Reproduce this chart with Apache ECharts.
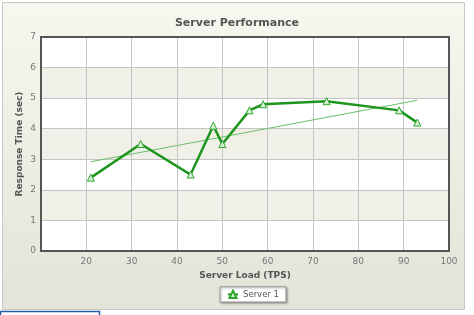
<!DOCTYPE html>
<html><head><meta charset="utf-8">
<script src="https://cdn.jsdelivr.net/npm/echarts@6/dist/echarts.min.js"></script>
<style>html,body{margin:0;padding:0;background:#fff}#c{width:474px;height:315px}</style>
</head><body><div id="c"></div>
<script>
var loadTPS = [21, 32, 43, 48, 50, 56, 59, 73, 89, 93];
var responseSec = [2.4, 3.5, 2.5, 4.1, 3.5, 4.6, 4.8, 4.9, 4.6, 4.2];
var trendX = [21, 93];
var trendY = [2.92, 4.93];
var xTicks = [10, 20, 30, 40, 50, 60, 70, 80, 90, 100];
var yTicks = [0, 1, 2, 3, 4, 5, 6, 7];

var chart = echarts.init(document.getElementById('c'));
var font = 'DejaVu Sans, Verdana, sans-serif';
chart.setOption({
  animation: false,
  backgroundColor: '#fff',
  graphic: [
    {type: 'rect', shape: {x: 2.5, y: 2.5, width: 462, height: 307}, z: -10,
     style: {fill: new echarts.graphic.LinearGradient(0, 0, 0, 1, [{offset: 0, color: '#f7f7ef'}, {offset: 1, color: '#e3e3d9'}]), stroke: '#c8c8c0', lineWidth: 1}},
    {type: 'rect', shape: {x: 0.5, y: 311.5, width: 99, height: 6}, z: -5,
     style: {fill: '#fff', stroke: '#2c5ca8', lineWidth: 1.5}}
  ],
  title: {text: 'Server Performance', left: 'center', top: 13,
    textStyle: {fontFamily: font, fontSize: 11, fontWeight: 'bold', color: '#555'}},
  grid: {left: 41, right: 25, top: 37, bottom: 64, show: true, borderColor: '#555', borderWidth: 2, backgroundColor: 'transparent', z: 3},
  legend: {data: ['Server 1'], bottom: 13, left: 220,
    backgroundColor: '#fff', borderColor: '#999', borderWidth: 1, padding: [3, 7],
    shadowColor: 'rgba(0,0,0,0.35)', shadowBlur: 2, shadowOffsetX: 1, shadowOffsetY: 1,
    itemWidth: 10, itemHeight: 9, itemGap: 5,
    textStyle: {fontFamily: font, fontSize: 8.5, color: '#555'}},
  xAxis: {type: 'value', min: 10, max: 100, interval: 10,
    name: 'Server Load (TPS)', nameLocation: 'middle', nameGap: 20, nameMoveOverlap: false,
    nameTextStyle: {fontFamily: font, fontSize: 9, fontWeight: 'bold', color: '#555'},
    axisLine: {show: false}, axisTick: {show: false},
    axisLabel: {fontFamily: font, fontSize: 9, color: '#777', margin: 6,
      formatter: function (v) { return xTicks.indexOf(v) > 0 ? String(v) : ''; }},
    splitLine: {show: true, showMinLine: false, showMaxLine: false, lineStyle: {color: '#c4c4c4', width: 1}}},
  yAxis: {type: 'value', min: 0, max: 7, interval: 1,
    name: 'Response Time (sec)', nameLocation: 'middle', nameGap: 17, nameMoveOverlap: false,
    nameTextStyle: {fontFamily: font, fontSize: 9, fontWeight: 'bold', color: '#555'},
    axisLine: {show: false}, axisTick: {show: false},
    axisLabel: {fontFamily: font, fontSize: 9, color: '#777', margin: 5,
      formatter: function (v) { return yTicks.indexOf(v) >= 0 ? String(v) : ''; }},
    splitLine: {show: true, showMinLine: false, showMaxLine: false, lineStyle: {color: '#c4c4c4', width: 1}},
    splitArea: {show: true, areaStyle: {color: ['#ffffff', '#f0f0e9']}}},
  series: [
    {name: 'Trend', type: 'line', data: trendX.map(function (x, i) { return [x, trendY[i]]; }),
      symbol: 'none', lineStyle: {color: '#6cc06c', width: 1}, z: 2, silent: true},
    {name: 'Server 1', type: 'line', data: loadTPS.map(function (x, i) { return [x, responseSec[i]]; }),
      symbol: 'triangle', symbolSize: 7,
      lineStyle: {color: '#1e961e', width: 2.5},
      itemStyle: {color: '#d6efd6', borderColor: '#2ea62e', borderWidth: 1}, z: 3}
  ]
});
</script></body></html>
